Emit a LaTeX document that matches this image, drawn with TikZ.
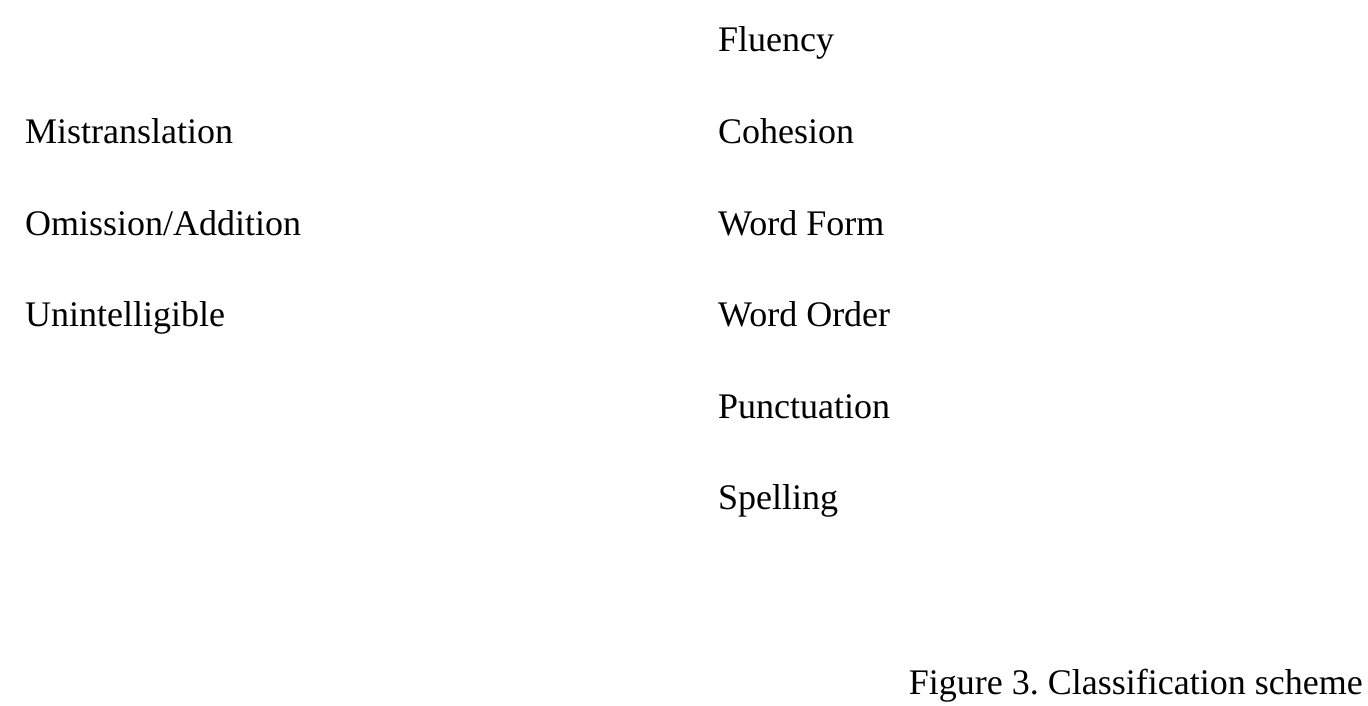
\documentclass[tikz,border=0pt]{standalone}
\usepackage{fontspec}
\setmainfont{Liberation Serif}
\frenchspacing
\begin{document}
\begin{tikzpicture}[x=1pt,y=-1pt,
  lbl/.style={anchor=base west,inner sep=0pt,font=\fontsize{36}{40}\selectfont},
  figcap/.style={anchor=base east,inner sep=0pt,font=\fontsize{36}{40}\selectfont}]
\useasboundingbox[fill=white] (0,0) rectangle (1368,706);
\node[lbl] (flu) at (718,52) {Fluency};
\node[lbl] (coh) at (718,143.5) {Cohesion};
\node[lbl] (wf) at (718,235) {Word Form};
\node[lbl] (wo) at (718,326.5) {Word Order};
\node[lbl] (pun) at (718,418) {Punctuation};
\node[lbl] (spe) at (718,509.5) {Spelling};
\node[lbl] (mis) at (25,143.5) {Mistranslation};
\node[lbl] (om) at (25,235) {Omission/Addition};
\node[lbl] (un) at (25,326.5) {Unintelligible};
\node[figcap] (fig) at (1363,694) {Figure 3. Classification scheme};
\end{tikzpicture}
\end{document}
